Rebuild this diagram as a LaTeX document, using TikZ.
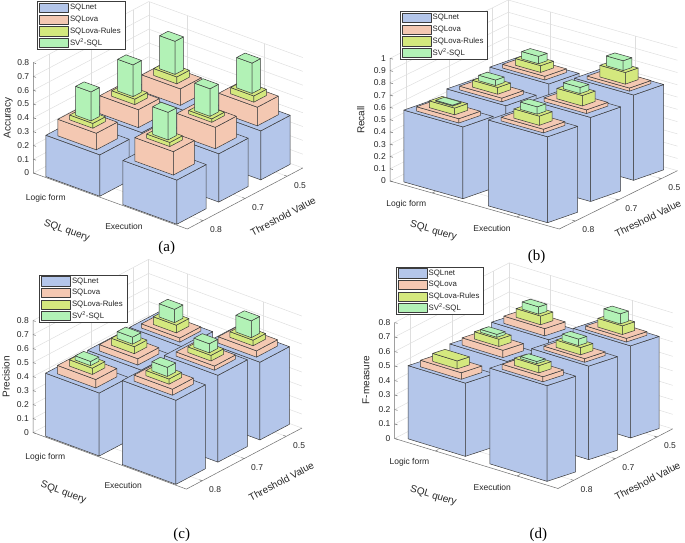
\documentclass[tikz,border=0pt]{standalone}
\usepackage{fontspec}
\setmainfont{Liberation Sans}
\newfontfamily\capfont{Liberation Serif}
\definecolor{cA}{RGB}{180,198,234}
\definecolor{cB}{RGB}{244,200,178}
\definecolor{cC}{RGB}{212,232,126}
\definecolor{cD}{RGB}{178,242,182}
\definecolor{edgec}{RGB}{60,60,60}
\definecolor{gridc}{RGB}{222,222,222}
\definecolor{axc}{RGB}{110,110,110}
\definecolor{txt}{RGB}{38,38,38}
\tikzset{
 cubf/.style={draw=edgec,line width=0.5pt,line join=round},
 gridl/.style={draw=gridc,line width=0.45pt},
 axl/.style={draw=axc,line width=0.5pt},
 ticklab/.style={font=\fontsize{8.5}{9}\selectfont,text=txt,inner sep=0pt},
 axlab/.style={font=\fontsize{10}{11}\selectfont,text=txt,inner sep=0pt},
 leglab/.style={font=\fontsize{7.8}{8}\selectfont,text=txt,inner sep=0pt,anchor=west},
 caplab/.style={font=\capfont\fontsize{15}{16}\selectfont,inner sep=0pt},
}
\newcommand{\setpanel}[9]{\def\Lx{#1}\def\Ly{#2}\def\Ix{#3}\def\Iy{#4}\def\Jx{#5}\def\Jy{#6}\def\Fx{#7}\def\Fy{#8}\def\Sz{#9}}
\newcommand{\gpt}[4]{\coordinate (#1) at ({\Lx+((#2)-0.5)*(\Ix)+((#3)-0.625)*(\Jx)},{\Ly+((#2)-0.5)*(\Iy)+((#3)-0.625)*(\Jy)-(\Sz)*(#4)});}
\newcommand{\cub}[6]{%
 \pgfmathsetmacro\cx{\Lx+((#1)-0.5)*(\Ix)+((#2)-0.625)*(\Jx)}%
 \pgfmathsetmacro\cy{\Ly+((#1)-0.5)*(\Iy)+((#2)-0.625)*(\Jy)}%
 \pgfmathsetmacro\ux{(#3)*(\Ix)}\pgfmathsetmacro\uy{(#3)*(\Iy)}%
 \pgfmathsetmacro\vx{(#3)*(\Fx)}\pgfmathsetmacro\vy{(#3)*(\Fy)}%
 \pgfmathsetmacro\zb{(\Sz)*(#4)}\pgfmathsetmacro\zt{(\Sz)*(#5)}%
 \pgfmathsetmacro\Ax{\cx-(\ux)-(\vx)}\pgfmathsetmacro\Ay{\cy-(\uy)-(\vy)}%
 \pgfmathsetmacro\Bx{\cx+(\ux)-(\vx)}\pgfmathsetmacro\By{\cy+(\uy)-(\vy)}%
 \pgfmathsetmacro\Cx{\cx+(\ux)+(\vx)}\pgfmathsetmacro\Cy{\cy+(\uy)+(\vy)}%
 \pgfmathsetmacro\Dx{\cx-(\ux)+(\vx)}\pgfmathsetmacro\Dy{\cy-(\uy)+(\vy)}%
 \pgfmathsetmacro\Ayb{\Ay-(\zb)}\pgfmathsetmacro\Ayt{\Ay-(\zt)}%
 \pgfmathsetmacro\Byb{\By-(\zb)}\pgfmathsetmacro\Byt{\By-(\zt)}%
 \pgfmathsetmacro\Cyb{\Cy-(\zb)}\pgfmathsetmacro\Cyt{\Cy-(\zt)}%
 \pgfmathsetmacro\Dyt{\Dy-(\zt)}%
 \filldraw[cubf,fill=#6] (\Ax,\Ayb) -- (\Bx,\Byb) -- (\Bx,\Byt) -- (\Ax,\Ayt) -- cycle;
 \filldraw[cubf,fill=#6] (\Bx,\Byb) -- (\Cx,\Cyb) -- (\Cx,\Cyt) -- (\Bx,\Byt) -- cycle;
 \filldraw[cubf,fill=#6] (\Ax,\Ayt) -- (\Bx,\Byt) -- (\Cx,\Cyt) -- (\Dx,\Dyt) -- cycle;
}
\newcommand{\grp}[6]{%
 \cub{#1}{#2}{0.35}{0}{#3}{cA}%
 \def\base{#3}%
 \ifdim #4pt>\base pt\relax \cub{#1}{#2}{0.25}{\base}{#4}{cB}\def\base{#4}\fi
 \ifdim #5pt>\base pt\relax \cub{#1}{#2}{0.15}{\base}{#5}{cC}\def\base{#5}\fi
 \ifdim #6pt>\base pt\relax \cub{#1}{#2}{0.1}{\base}{#6}{cD}\fi
}
\newcommand{\walls}{%
 \foreach \k/\lab in \zlist{%
  \pgfmathsetmacro\zz{\k/10}%
  \gpt{w1}{0.5}{0.625}{\zz}\gpt{w2}{0.5}{3.375}{\zz}\gpt{w3}{2.5}{3.375}{\zz}%
  \draw[gridl] (w1)--(w2)--(w3);}%
 \foreach \q in {1,2,3}{%
  \gpt{v1}{0.5}{\q}{0}\gpt{v2}{0.5}{\q}{\Zmax}\draw[gridl](v1)--(v2);
  \gpt{f1}{0.5}{\q}{0}\gpt{f2}{2.5}{\q}{0}\draw[gridl](f1)--(f2);}%
 \foreach \q in {1,2}{%
  \gpt{v1}{\q}{3.375}{0}\gpt{v2}{\q}{3.375}{\Zmax}\draw[gridl](v1)--(v2);
  \gpt{f1}{\q}{0.625}{0}\gpt{f2}{\q}{3.375}{0}\draw[gridl](f1)--(f2);}%
 \gpt{v1}{0.5}{3.375}{0}\gpt{v2}{0.5}{3.375}{\Zmax}\draw[gridl](v1)--(v2);
 \gpt{o}{0.5}{0.625}{0}\gpt{zt}{0.5}{0.625}{\Zmax}\gpt{fc}{2.5}{0.625}{0}\gpt{rc}{2.5}{3.375}{0}%
 \draw[axl](zt)--(o)--(fc)--(rc);
 \foreach \k/\lab in \zlist{%
  \pgfmathsetmacro\zz{\k/10}%
  \gpt{t1}{0.5}{0.625}{\zz}\gpt{t2}{0.535}{0.625}{\zz}\draw[axl](t1)--(t2);
  \node[ticklab,anchor=east] at ([xshift=-4pt]t1) {\lab};}%
 \foreach \q in {1,2}{\gpt{t1}{\q}{0.625}{0}\gpt{t2}{\q}{0.69}{0}\draw[axl](t1)--(t2);}%
 \foreach \q in {1,2,3}{\gpt{t1}{2.5}{\q}{0}\gpt{t2}{2.465}{\q}{0}\draw[axl](t1)--(t2);}%
 \gpt{la}{1}{0.625}{0}\gpt{lbb}{2}{0.625}{0}%
 \node[ticklab,anchor=east] at ([shift={(-6,11)}]la) {Logic form};
 \node[ticklab,anchor=east] at ([shift={(-6,11)}]lbb) {Execution};
 \foreach \q/\lab in {1/0.8,2/0.7,3/0.5}{\gpt{t1}{2.5}{\q}{0}\node[ticklab] at ([shift={(13,9)}]t1) {\lab};}%
}
\newcommand{\leg}[2]{%
 \draw[draw=edgec,fill=white,line width=0.5pt] (#1,#2) rectangle ++(87.5,47.6);
 \foreach \k/\cc/\lt in {0/cA/SQLnet,1/cB/SQLova,2/cC/SQLova-Rules,3/cD/{SV\textsuperscript{2}-SQL}}{%
  \pgfmathsetmacro\yc{#2+6.3+11.6*\k}%
  \filldraw[cubf,fill=\cc] (#1+2,\yc-4.6) rectangle (#1+31,\yc+4.6);
  \node[leglab] at (#1+32.5,\yc) {\lt};}%
}
\begin{document}
\begin{tikzpicture}[x=1pt,y=-1pt]
\useasboundingbox (0,0) rectangle (685,543);
\fill[white] (0,0) rectangle (685,543);
% ---------- panel (a)
\setpanel{33.3}{173}{77}{28}{42}{-22.2}{42}{-22.2}{138}\def\Zmax{0.8}%
\def\zlist{0/0,1/0.1,2/0.2,3/0.3,4/0.4,5/0.5,6/0.6,7/0.7,8/0.8}%
\walls
\grp{1}{3}{0.30}{0.42}{0.47}{0.71}
\grp{1}{2}{0.30}{0.43}{0.47}{0.70}
\grp{2}{3}{0.355}{0.49}{0.535}{0.755}
\grp{1}{1}{0.30}{0.42}{0.455}{0.665}
\grp{2}{2}{0.35}{0.505}{0.53}{0.73}
\grp{2}{1}{0.32}{0.49}{0.52}{0.72}
\leg{37.3}{1.7}
\node[axlab,rotate=90] (ya) at (8.3,118) {Accuracy};
\node[axlab,rotate=-20] (xa) at (66.7,231) {SQL query};
\node[axlab,rotate=28] (ta) at (283,216.5) {Threshold Value};
\node[caplab] (ca) at (166.7,248.3) {(a)};
% ---------- panel (b)
\setpanel{390}{181}{84.6}{24}{43}{-21.2}{43}{-15}{122.7}\def\Zmax{1}%
\def\zlist{0/0,1/0.1,2/0.2,3/0.3,4/0.4,5/0.5,6/0.6,7/0.7,8/0.8,9/0.9,10/1}%
\walls
\grp{1}{3}{0.59}{0.62}{0.675}{0.735}
\grp{1}{2}{0.585}{0.615}{0.67}{0.715}
\grp{2}{3}{0.695}{0.72}{0.815}{0.895}
\grp{1}{1}{0.585}{0.62}{0.675}{0.683}
\grp{2}{2}{0.685}{0.715}{0.80}{0.85}
\grp{2}{1}{0.70}{0.73}{0.805}{0.865}
\leg{400}{11.7}
\node[axlab,rotate=90] (yb) at (360.7,120) {Recall};
\node[axlab,rotate=-16] (xb) at (433.3,231) {SQL query};
\node[axlab,rotate=26] (tb) at (648,218.5) {Threshold Value};
\node[caplab] (cb) at (536.7,256.7) {(b)};
% ---------- panel (c)
\setpanel{33}{432.5}{76.7}{28.3}{42}{-22.2}{42}{-22.2}{140}\def\Zmax{0.8}%
\def\zlist{0/0,1/0.1,2/0.2,3/0.3,4/0.4,5/0.5,6/0.6,7/0.7,8/0.8}%
\walls
\grp{1}{3}{0.46}{0.49}{0.545}{0.64}
\grp{1}{2}{0.455}{0.50}{0.55}{0.60}
\grp{2}{3}{0.555}{0.60}{0.64}{0.76}
\grp{1}{1}{0.45}{0.51}{0.555}{0.585}
\grp{2}{2}{0.62}{0.65}{0.69}{0.755}
\grp{2}{1}{0.60}{0.643}{0.68}{0.745}
\leg{39.3}{275}
\node[axlab,rotate=90] (yc) at (6,376.7) {Precision};
\node[axlab,rotate=-20] (xc) at (63.3,492.7) {SQL query};
\node[axlab,rotate=28] (tc) at (281.3,481.5) {Threshold Value};
\node[caplab] (cc) at (181.7,535) {(c)};
% ---------- panel (d)
\setpanel{394.6}{438.5}{81.7}{25}{41.7}{-21.7}{41}{-13.5}{145}\def\Zmax{0.8}%
\def\zlist{0/0,1/0.1,2/0.2,3/0.3,4/0.4,5/0.5,6/0.6,7/0.7,8/0.8}%
\walls
\grp{1}{3}{0.505}{0.555}{0.615}{0.665}
\grp{1}{2}{0.505}{0.555}{0.605}{0.625}
\grp{2}{3}{0.635}{0.66}{0.72}{0.79}
\grp{1}{1}{0.505}{0.55}{0.605}{0.59}
\grp{2}{2}{0.645}{0.67}{0.72}{0.765}
\grp{2}{1}{0.66}{0.695}{0.745}{0.76}
\leg{396}{267}
\node[axlab,rotate=90] (yd) at (366,380) {F-measure};
\node[axlab,rotate=-17] (xd) at (433.3,496) {SQL query};
\node[axlab,rotate=27.5] (td) at (647.5,481) {Threshold Value};
\node[caplab] (cd) at (538.3,535) {(d)};
\end{tikzpicture}
\end{document}
